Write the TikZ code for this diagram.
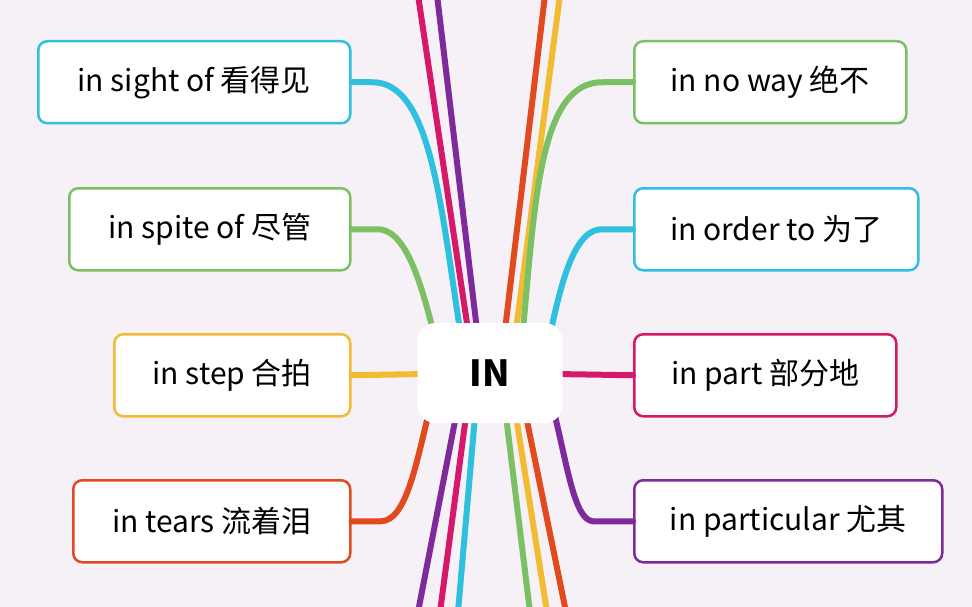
\documentclass[tikz,border=0pt]{standalone}
\usepackage{fontspec}
\setmainfont{Noto Sans CJK SC}
\begin{document}
\begin{tikzpicture}[x=1pt,y=-1pt,
  box/.style={draw=#1, line width=2.5pt, rounded corners=9pt, fill=white, inner sep=0pt, anchor=north west},
  br/.style={draw=#1, line width=6pt, line cap=round},
  lab/.style={font=\fontsize{30}{34}\selectfont}]
\definecolor{bg}{HTML}{F6F1F6}
\definecolor{ccyan}{HTML}{2EC0DE}
\definecolor{cgreen}{HTML}{7CC064}
\definecolor{cyel}{HTML}{F2BB34}
\definecolor{cred}{HTML}{E04A1E}
\definecolor{cmag}{HTML}{D6186A}
\definecolor{cpur}{HTML}{7E2A9A}
\fill[bg] (0,0) rectangle (972,607);
\useasboundingbox (0,0) rectangle (972,607);
% free ends
\coordinate (t1) at (418,-5); \coordinate (t2) at (437,-5);
\coordinate (t3) at (545,-5); \coordinate (t4) at (560,-5);
\coordinate (b1) at (418,612); \coordinate (b2) at (440,612); \coordinate (b3) at (458,612);
\coordinate (b4) at (530,612); \coordinate (b5) at (547,612); \coordinate (b6) at (566,612);
\coordinate (c) at (490,373);
% branches off-canvas
\draw[br=cmag] (t1) -- (468,330);
\draw[br=cpur] (t2) -- (477,330);
\draw[br=cred] (t3) -- (505,330);
\draw[br=cyel] (t4) -- (516,330);
\draw[br=cpur] (b1) -- (456,416);
\draw[br=cmag] (b2) -- (466,416);
\draw[br=ccyan] (b3) -- (475,416);
\draw[br=cgreen] (b4) -- (506,416);
\draw[br=cyel] (b5) -- (516,416);
\draw[br=cred] (b6) -- (526,416);
% nodes
\node[box=ccyan, minimum width=312pt, minimum height=82pt] (n1) at (37,40) {};
\node[lab] at (n1.center) {in sight of 看得见};
\node[box=cgreen, minimum width=281pt, minimum height=82pt] (n2) at (68,187) {};
\node[lab] at (n2.center) {in spite of 尽管};
\node[box=cyel, minimum width=236pt, minimum height=82pt] (n3) at (113,333) {};
\node[lab] at (n3.center) {in step 合拍};
\node[box=cred, minimum width=277pt, minimum height=82pt] (n4) at (72,479) {};
\node[lab] at (n4.center) {in tears 流着泪};
\node[box=cgreen, minimum width=272pt, minimum height=82pt] (m1) at (633,40) {};
\node[lab] at (m1.center) {in no way 绝不};
\node[box=ccyan, minimum width=284pt, minimum height=82pt] (m2) at (633,187) {};
\node[lab] at (m2.center) {in order to 为了};
\node[box=cmag, minimum width=262pt, minimum height=82pt] (m3) at (633,333) {};
\node[lab] at (m3.center) {in part 部分地};
\node[box=cpur, minimum width=308pt, minimum height=82pt] (m4) at (633,479) {};
\node[lab] at (m4.center) {in particular 尤其};
% connectors
\draw[br=ccyan] (n1.east) -- ++(20,0) .. controls (430,81) and (440,200) .. (460,330);
\draw[br=cgreen] (n2.east) -- ++(25,0) .. controls (405,228) and (420,280) .. (433,330);
\draw[br=cyel] (n3.east) -- (425,374);
\draw[br=cred] (n4.east) -- ++(30,0) .. controls (405,520) and (415,470) .. (428,416);
\draw[br=cgreen] (m1.west) -- ++(-30,0) .. controls (540,81) and (535,200) .. (523,330);
\draw[br=ccyan] (m2.west) -- ++(-30,0) .. controls (575,228) and (562,280) .. (551,330);
\draw[br=cmag] (m3.west) -- (555,374);
\draw[br=cpur] (m4.west) -- ++(-40,0) .. controls (575,520) and (568,470) .. (555,416);
% center
\node[fill=white, rounded corners=18pt, minimum width=145pt, minimum height=100pt, font=\fontsize{36}{40}\selectfont\bfseries] (in) at (c) {IN};
\end{tikzpicture}
\end{document}
